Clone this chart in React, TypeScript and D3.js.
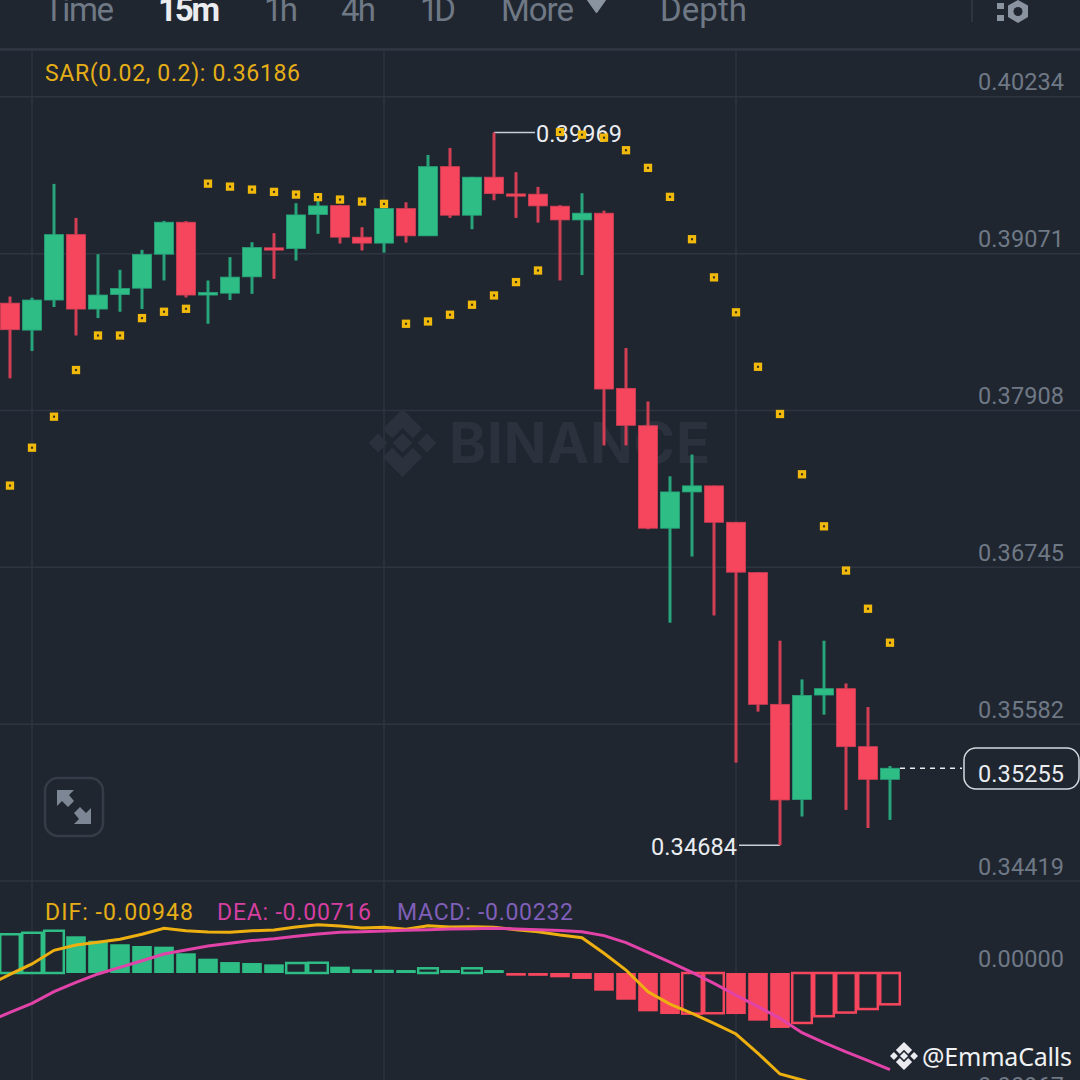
import { useEffect, useRef } from "react";
import * as d3 from "d3";

const WIDTH = 1080;
const HEIGHT = 1080;
const BG = "#1f2630";
const GRID = "#2e3540";
const GREEN = "#2ebd85";
const RED = "#f6465d";
const YELLOW = "#f0b90b";
const FONT = "Roboto, 'Noto Sans', sans-serif";

// candles, oldest first
const opens = [
  0.38704, 0.38504, 0.38727, 0.39212, 0.3866, 0.38768, 0.38815, 0.39067, 0.39304, 0.38764, 0.38778,
  0.38899, 0.39114, 0.39109, 0.39361, 0.39427, 0.39193, 0.39149, 0.39405, 0.39203, 0.39716, 0.39356,
  0.39638, 0.39514, 0.39512, 0.39423, 0.39321, 0.39371, 0.38072, 0.37795, 0.37035, 0.37304, 0.37349,
  0.37079, 0.36706, 0.35729, 0.35023, 0.35798, 0.35845, 0.35415, 0.35173,
];
const closes = [
  0.38507, 0.38727, 0.39212, 0.3866, 0.38764, 0.38812, 0.39064, 0.39304, 0.38764, 0.38783, 0.38897,
  0.39116, 0.39097, 0.39358, 0.39425, 0.39193, 0.39149, 0.39405, 0.39203, 0.39716, 0.39356, 0.39638,
  0.39516, 0.39497, 0.39425, 0.39321, 0.39371, 0.38067, 0.37798, 0.37035, 0.37304, 0.37349, 0.37079,
  0.36709, 0.35729, 0.3502, 0.35795, 0.35845, 0.35415, 0.35173, 0.35255,
];
const highs = [
  0.38753, 0.38744, 0.39588, 0.39336, 0.39067, 0.38951, 0.39099, 0.39314, 0.39312, 0.38872, 0.39045,
  0.39156, 0.39223, 0.39445, 0.3947, 0.39432, 0.39267, 0.39425, 0.39452, 0.39803, 0.39855, 0.3964,
  0.39969, 0.39675, 0.39566, 0.3943, 0.39519, 0.3939, 0.38371, 0.37975, 0.3742, 0.37581, 0.37351,
  0.3708, 0.36709, 0.36201, 0.35914, 0.36201, 0.35884, 0.35709, 0.35272,
];
const lows = [
  0.38146, 0.38349, 0.38675, 0.38464, 0.38593, 0.3864, 0.3866, 0.38872, 0.38746, 0.38551, 0.38727,
  0.38773, 0.38884, 0.3902, 0.39218, 0.39146, 0.39094, 0.39079, 0.39153, 0.39203, 0.39336, 0.39252,
  0.39467, 0.39336, 0.39301, 0.38872, 0.38912, 0.37649, 0.37649, 0.37027, 0.36334, 0.36825, 0.36388,
  0.35297, 0.35675, 0.34684, 0.34897, 0.35652, 0.34946, 0.34812, 0.34872,
];
const sar = [
  0.37351, 0.37632, 0.37862, 0.38208, 0.38464, 0.38464, 0.38593, 0.3864, 0.38662, 0.3959, 0.39568,
  0.39546, 0.39529, 0.39509, 0.3949, 0.39472, 0.39457, 0.3944, 0.38551, 0.38568, 0.38618, 0.38692,
  0.38761, 0.3886, 0.38946, 0.39973, 0.39953, 0.39931, 0.39838, 0.39707, 0.39492, 0.39178, 0.38895,
  0.38636, 0.38232, 0.37882, 0.37435, 0.37049, 0.36721, 0.36438, 0.36186,
];

const macdHist = [
  0.00287, 0.00298, 0.00313, 0.00272, 0.00239, 0.00213, 0.002, 0.00195, 0.00146, 0.00106, 0.00081,
  0.00074, 0.00064, 0.00074, 0.00076, 0.00047, 0.00027, 0.00024, 0.00022, 0.00035, 0.00022, 0.00035,
  0.00022, -0.0002, -0.00021, -0.00032, -0.00044, -0.00131, -0.00198, -0.00284, -0.00304, -0.00301,
  -0.00298, -0.00304, -0.00353, -0.00407, -0.0037, -0.0032, -0.00293, -0.00267, -0.00232,
];
// first point of each line belongs to the candle just off the left edge
const dif = [
  -0.00091, -0.0001, 0.00067, 0.00168, 0.00207, 0.00227, 0.0025, 0.00287, 0.00331, 0.00313, 0.00304,
  0.00301, 0.00313, 0.00319, 0.00341, 0.00358, 0.00348, 0.00333, 0.00339, 0.00324, 0.0035, 0.00341,
  0.00343, 0.00339, 0.00321, 0.00306, 0.00281, 0.00261, 0.00146, 0.00022, -0.00139, -0.0023, -0.00299,
  -0.00373, -0.00452, -0.00595, -0.00748, -0.00793, -0.00835, -0.0087, -0.00905, -0.00948,
];
const dea = [
  -0.00363, -0.00291, -0.00225, -0.00138, -0.00069, -0.00007, 0.00042, 0.00091, 0.00141, 0.0017, 0.002,
  0.0022, 0.0024, 0.00254, 0.00272, 0.00289, 0.00301, 0.00306, 0.00311, 0.00316, 0.00321, 0.00326,
  0.00328, 0.00331, 0.00326, 0.00321, 0.00314, 0.00306, 0.00277, 0.00225, 0.00153, 0.00081, 0.00005,
  -0.00077, -0.00165, -0.00249, -0.00336, -0.00442, -0.00516, -0.00585, -0.00649, -0.00716,
];

const priceTicks = [0.40234, 0.39071, 0.37908, 0.36745, 0.35582, 0.34419];
const tabs = ["Time", "15m", "1h", "4h", "1D", "More", "Depth"];
const tabX = [44, 158, 264, 341, 420, 501, 660];
const tabW = [70, 62, 34, 35, 36, 73, 87];
const timeGrid = [32, 384, 736];

const LOGO_CHEVRON = "M0,-1L.58,-.42L.3,-.14L0,-.44L-.3,-.14L-.58,-.42Z";
const LOGO_CENTER = "M0,-.29L.29,0L0,.29L-.29,0Z";
const LOGO_SIDE = "M-1,0L-.72,-.28L-.44,0L-.72,.28Z";

function drawLogo(g: d3.Selection<SVGGElement, unknown, null, undefined>, cx: number, cy: number, r: number, fill: string) {
  const logo = g.append("g").attr("transform", `translate(${cx},${cy}) scale(${r})`).attr("fill", fill);
  logo.append("path").attr("d", LOGO_CHEVRON);
  logo.append("path").attr("d", LOGO_CHEVRON).attr("transform", "scale(1,-1)");
  logo.append("path").attr("d", LOGO_CENTER);
  logo.append("path").attr("d", LOGO_SIDE);
  logo.append("path").attr("d", LOGO_SIDE).attr("transform", "scale(-1,1)");
}

export default function App() {
  const svgRef = useRef<SVGSVGElement>(null);

  useEffect(() => {
    if (!svgRef.current) return;
    const svg = d3.select(svgRef.current);
    svg.selectAll("*").remove();
    const root = svg.append("g") as unknown as d3.Selection<SVGGElement, unknown, null, undefined>;

    const x = d3.scaleLinear().domain([0, 40]).range([10, 890]);
    const y = d3.scaleLinear().domain([0.40234, 0.34419]).range([96.8, 881]);
    const yMacd = d3.scaleLinear().domain([0, -0.01]).range([973, 1108]);
    const idx = d3.range(opens.length);

    root.append("rect").attr("width", WIDTH).attr("height", HEIGHT).attr("fill", BG);

    // grid
    root.append("rect").attr("x", 0).attr("y", 48).attr("width", WIDTH).attr("height", 3).attr("fill", GRID);
    root.selectAll("line.h").data(priceTicks).join("line")
      .attr("class", "h")
      .attr("x1", 0).attr("x2", WIDTH)
      .attr("y1", (d) => y(d)).attr("y2", (d) => y(d))
      .attr("stroke", GRID).attr("stroke-width", 1.5);
    root.selectAll("line.v").data(timeGrid).join("line")
      .attr("class", "v")
      .attr("x1", (d) => d).attr("x2", (d) => d)
      .attr("y1", 50).attr("y2", HEIGHT)
      .attr("stroke", GRID).attr("stroke-width", 1.5);

    // watermark
    drawLogo(root, 402.5, 443, 34, "#2c323d");
    root.append("text").attr("x", 449).attr("y", 463)
      .attr("font-family", "Inter, Lato, sans-serif").attr("font-weight", 700)
      .attr("font-size", 56).attr("textLength", 261).attr("fill", "#2c323d")
      .text("BINANCE");

    // tabs
    root.selectAll("text.tab").data(tabs).join("text")
      .attr("class", "tab")
      .attr("x", (_, i) => tabX[i]).attr("y", 21)
      .attr("font-family", FONT).attr("font-size", 33)
      .attr("font-weight", (d) => (d === "15m" ? 700 : 400))
      .attr("textLength", (_, i) => tabW[i])
      .attr("fill", (d) => (d === "15m" ? "#eaecef" : "#6f7885"))
      .text((d) => d);
    root.append("path").attr("d", "M588,0H605L596.5,12Z").attr("fill", "#8a93a0")
      .attr("stroke", "#8a93a0").attr("stroke-width", 2).attr("stroke-linejoin", "round");
    root.append("line").attr("x1", 972).attr("x2", 972).attr("y1", 0).attr("y2", 22)
      .attr("stroke", "#343b46").attr("stroke-width", 1.5);
    root.append("rect").attr("x", 997).attr("y", 3).attr("width", 7).attr("height", 6).attr("fill", "#8a93a0");
    root.append("rect").attr("x", 997).attr("y", 15).attr("width", 7).attr("height", 6).attr("fill", "#8a93a0");
    root.append("path").attr("d", "M1018,0L1028,5.5V17L1018,23L1008,17V5.5Z").attr("fill", "#8a93a0");
    root.append("circle").attr("cx", 1018).attr("cy", 11.5).attr("r", 4.5).attr("fill", BG);

    // price labels
    const tick = (t: d3.Selection<any, any, any, any>) =>
      t.attr("text-anchor", "end").attr("font-family", FONT).attr("font-size", 23.5)
        .attr("textLength", 86).attr("fill", "#6f7885");
    tick(root.selectAll("text.price").data(priceTicks).join("text"))
      .attr("class", "price")
      .attr("x", 1064).attr("y", (d: number) => y(d) - 6.5)
      .text((d: number) => d.toFixed(5));
    tick(root.append("text")).attr("x", 1064).attr("y", 967).text("0.00000");
    tick(root.append("text")).attr("x", 1064).attr("y", 1094).text("0.00967");

    // high / low markers
    const valueLabel = (t: d3.Selection<any, any, any, any>) =>
      t.attr("font-family", FONT).attr("font-size", 23.5).attr("textLength", 86).attr("fill", "#eaecef");
    const hiY = y(d3.max(highs) as number);
    const loY = y(d3.min(lows) as number);
    root.append("line").attr("x1", x(22)).attr("x2", 535).attr("y1", hiY).attr("y2", hiY)
      .attr("stroke", "#c9ced6").attr("stroke-width", 1.5);
    valueLabel(root.append("text")).attr("x", 536).attr("y", hiY + 9).text("0.39969");
    root.append("line").attr("x1", 739).attr("x2", x(35)).attr("y1", loY).attr("y2", loY)
      .attr("stroke", "#c9ced6").attr("stroke-width", 1.5);
    valueLabel(root.append("text")).attr("x", 651).attr("y", loY + 10).text("0.34684");

    // candles
    const colorOf = (i: number) => (closes[i] >= opens[i] ? GREEN : RED);
    const wickOf = (i: number) => (closes[i] >= opens[i] ? "#27a47a" : "#d23f55");
    root.selectAll("line.wick").data(idx).join("line")
      .attr("class", "wick")
      .attr("x1", (i) => x(i)).attr("x2", (i) => x(i))
      .attr("y1", (i) => y(highs[i])).attr("y2", (i) => y(lows[i]))
      .attr("stroke", (i) => wickOf(i)).attr("stroke-width", 3);
    root.selectAll("rect.body").data(idx).join("rect")
      .attr("class", "body")
      .attr("x", (i) => x(i) - 9.5).attr("width", 19)
      .attr("y", (i) => y(Math.max(opens[i], closes[i])))
      .attr("height", (i) => Math.abs(y(opens[i]) - y(closes[i])))
      .attr("fill", (i) => colorOf(i))
      .attr("stroke", (i) => wickOf(i)).attr("stroke-width", 0.8);

    // SAR dots
    root.selectAll("rect.sar").data(sar).join("rect")
      .attr("class", "sar")
      .attr("x", (_, i) => x(i) - 2.6).attr("y", (d) => y(d) - 2.6)
      .attr("width", 5.2).attr("height", 5.2)
      .attr("fill", "#33301f").attr("stroke", YELLOW).attr("stroke-width", 3.1);

    // last price
    const lastY = y(closes[closes.length - 1]);
    root.append("line").attr("x1", 900).attr("x2", 962).attr("y1", lastY).attr("y2", lastY)
      .attr("stroke", "#eaecef").attr("stroke-width", 1.3).attr("stroke-dasharray", "5,5");
    root.append("rect").attr("x", 964).attr("y", 748).attr("width", 115).attr("height", 41).attr("rx", 12)
      .attr("fill", BG).attr("stroke", "#d5d9df").attr("stroke-width", 1.5);
    valueLabel(root.append("text")).attr("x", 978).attr("y", 782).text("0.35255");

    // expand button
    root.append("rect").attr("x", 45).attr("y", 778).attr("width", 58).attr("height", 58).attr("rx", 13)
      .attr("fill", "none").attr("stroke", "#353c47").attr("stroke-width", 2.5);
    root.append("path").attr("d", "M57,790H74L69,795L74,801L68,807L62,801L57,806Z").attr("fill", "#7d8694");
    root.append("path").attr("d", "M91,824H74L79,819L74,813L80,807L86,813L91,808Z").attr("fill", "#7d8694");

    // macd bars: hollow when the value rose against the previous one
    const hollow = (i: number) => i === 0 || macdHist[i] >= macdHist[i - 1];
    const macdColor = (d: number) => (d >= 0 ? GREEN : RED);
    root.selectAll("rect.hist").data(macdHist).join("rect")
      .attr("class", "hist")
      .attr("x", (_, i) => x(i) - 9.8).attr("width", 19.6)
      .attr("y", (d) => Math.min(yMacd(d), yMacd(0)))
      .attr("height", (d) => Math.abs(yMacd(d) - yMacd(0)))
      .attr("fill", (d, i) => (hollow(i) ? "none" : macdColor(d)))
      .attr("stroke", (d, i) => (hollow(i) ? macdColor(d) : "none"))
      .attr("stroke-width", 2.5);

    const macdLine = d3.line<number>().x((_, i) => x(i - 1)).y((d) => yMacd(d));
    root.append("path").attr("d", macdLine(dif)).attr("fill", "none").attr("stroke", "#eeb010").attr("stroke-width", 3);
    root.append("path").attr("d", macdLine(dea)).attr("fill", "none").attr("stroke", "#e243a8").attr("stroke-width", 3);

    // legends
    const legend = (txt: string, lx: number, ly: number, len: number, color: string) =>
      root.append("text").attr("x", lx).attr("y", ly)
        .attr("font-family", FONT).attr("font-size", 23)
        .attr("textLength", len).attr("fill", color).text(txt);
    legend("SAR(0.02, 0.2): 0.36186", 45, 81, 255, "#e5ae17");
    legend("DIF: -0.00948", 45, 920, 148, "#e5ae17");
    legend("DEA: -0.00716", 217, 920, 154, "#d63fa0");
    legend("MACD: -0.00232", 397, 920, 176, "#7f5fb8");

    // share tag
    drawLogo(root, 904, 1056, 14, "#eaecef");
    root.append("text").attr("x", 922).attr("y", 1066)
      .attr("font-family", "'Noto Sans', sans-serif").attr("font-size", 25)
      .attr("textLength", 150).attr("fill", "#f0f1f3").text("@EmmaCalls");
  }, []);

  return (
    <svg
      ref={svgRef}
      width={WIDTH}
      height={HEIGHT}
      viewBox={`0 0 ${WIDTH} ${HEIGHT}`}
      style={{ position: "fixed", left: 0, top: 0 }}
    />
  );
}
